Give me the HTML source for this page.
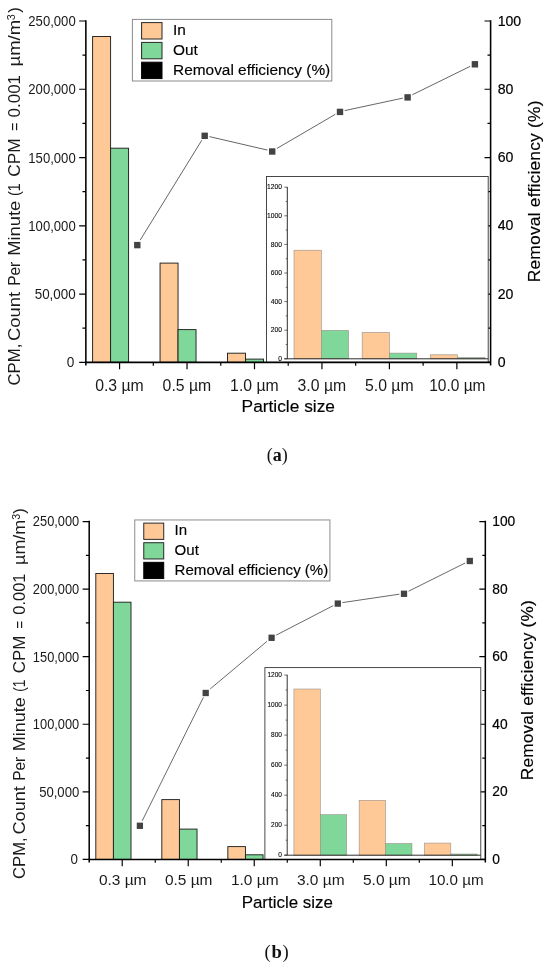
<!DOCTYPE html>
<html lang="en">
<head>
<meta charset="utf-8">
<title>Particle size removal efficiency</title>
<style>
html,body{margin:0;padding:0;background:#fff;}
body{width:550px;height:968px;overflow:hidden;}
svg{display:block;font-family:"Liberation Sans",sans-serif;}
</style>
</head>
<body>
<svg width="550" height="968" viewBox="0 0 550 968">
<rect width="550" height="968" fill="#fff"/>
<g transform="translate(0 0)">
<rect x="92.6" y="36.5" width="17.99" height="325.85" fill="#FEC997" stroke="#202020" stroke-width="0.95"/>
<rect x="110.58" y="148.2" width="17.99" height="214.15" fill="#7FD799" stroke="#202020" stroke-width="0.95"/>
<rect x="160.05" y="263.1" width="17.99" height="99.25" fill="#FEC997" stroke="#202020" stroke-width="0.95"/>
<rect x="178.04" y="329.6" width="17.99" height="32.75" fill="#7FD799" stroke="#202020" stroke-width="0.95"/>
<rect x="227.51" y="353.2" width="17.99" height="9.15" fill="#FEC997" stroke="#202020" stroke-width="0.95"/>
<rect x="245.5" y="359.1" width="17.99" height="3.25" fill="#7FD799" stroke="#202020" stroke-width="0.95"/>
<polyline points="137.3,244.8 204.7,135.5 272.2,151.2 340,111.6 407.6,97.1 474.9,64" fill="none" stroke="#666" stroke-width="1"/>
<rect x="132.6" y="240.1" width="9.4" height="9.4" fill="#fff"/>
<rect x="200" y="130.8" width="9.4" height="9.4" fill="#fff"/>
<rect x="267.5" y="146.5" width="9.4" height="9.4" fill="#fff"/>
<rect x="335.3" y="106.9" width="9.4" height="9.4" fill="#fff"/>
<rect x="402.9" y="92.4" width="9.4" height="9.4" fill="#fff"/>
<rect x="470.2" y="59.3" width="9.4" height="9.4" fill="#fff"/>
<rect x="134.1" y="241.9" width="6.4" height="6.4" fill="#434343"/>
<rect x="201.5" y="132.6" width="6.4" height="6.4" fill="#434343"/>
<rect x="269" y="148.3" width="6.4" height="6.4" fill="#434343"/>
<rect x="336.8" y="108.7" width="6.4" height="6.4" fill="#434343"/>
<rect x="404.4" y="94.2" width="6.4" height="6.4" fill="#434343"/>
<rect x="471.7" y="61.1" width="6.4" height="6.4" fill="#434343"/>
<path d="M484.5 21H490.6 M487.5 55.14H490.6 M484.5 89.27H490.6 M487.5 123.41H490.6 M484.5 157.54H490.6 M487.5 191.68H490.6 M484.5 225.81H490.6 M487.5 259.95H490.6 M484.5 294.08H490.6 M487.5 328.22H490.6 M484.5 362.35H490.6" stroke="#000" stroke-width="1.2" fill="none"/>
<rect x="266.5" y="176.5" width="221.7" height="185.85" fill="#fff" stroke="#333" stroke-width="0.9"/>
<rect x="294" y="250.2" width="27.3" height="108.6" fill="#FEC997" stroke="#9a8f86" stroke-width="0.6"/>
<rect x="321.3" y="330.4" width="27.3" height="28.4" fill="#7FD799" stroke="#9a8f86" stroke-width="0.6"/>
<rect x="362.15" y="332.4" width="27.3" height="26.4" fill="#FEC997" stroke="#9a8f86" stroke-width="0.6"/>
<rect x="389.45" y="353.1" width="27.3" height="5.7" fill="#7FD799" stroke="#9a8f86" stroke-width="0.6"/>
<rect x="430.3" y="354.8" width="27.3" height="4" fill="#FEC997" stroke="#9a8f86" stroke-width="0.6"/>
<rect x="457.6" y="357.6" width="27.3" height="1.2" fill="#7FD799" stroke="#9a8f86" stroke-width="0.6"/>
<path d="M287.3 186.9V358.8 M284.3 358.8H488.2" stroke="#222" stroke-width="0.95" fill="none"/>
<path d="M284.3 187.2H287.3 M285.7 201.5H287.3 M284.3 215.8H287.3 M285.7 230.1H287.3 M284.3 244.4H287.3 M285.7 258.7H287.3 M284.3 273H287.3 M285.7 287.3H287.3 M284.3 301.6H287.3 M285.7 315.9H287.3 M284.3 330.2H287.3 M285.7 344.5H287.3 M284.3 358.8H287.3" stroke="#333" stroke-width="0.7" fill="none"/>
<text x="282" y="189.4" font-size="6.7" text-anchor="end" fill="#000" stroke="#000" stroke-width="0.1">1200</text>
<text x="282" y="218" font-size="6.7" text-anchor="end" fill="#000" stroke="#000" stroke-width="0.1">1000</text>
<text x="282" y="246.6" font-size="6.7" text-anchor="end" fill="#000" stroke="#000" stroke-width="0.1">800</text>
<text x="282" y="275.2" font-size="6.7" text-anchor="end" fill="#000" stroke="#000" stroke-width="0.1">600</text>
<text x="282" y="303.8" font-size="6.7" text-anchor="end" fill="#000" stroke="#000" stroke-width="0.1">400</text>
<text x="282" y="332.4" font-size="6.7" text-anchor="end" fill="#000" stroke="#000" stroke-width="0.1">200</text>
<text x="282" y="361" font-size="6.7" text-anchor="end" fill="#000" stroke="#000" stroke-width="0.1">0</text>
<path d="M85.85 20.3V365.55 M490.6 20.3V365.55 M85.05 362.35H491.4" stroke="#000" stroke-width="1.55" fill="none"/>
<path d="M79.15 21H85.85 M82.45 55.14H85.85 M79.15 89.27H85.85 M82.45 123.41H85.85 M79.15 157.54H85.85 M82.45 191.68H85.85 M79.15 225.81H85.85 M82.45 259.95H85.85 M79.15 294.08H85.85 M82.45 328.22H85.85 M79.15 362.35H85.85 M119.58 362.35V369.15 M153.31 362.35V365.65 M187.04 362.35V369.15 M220.77 362.35V365.65 M254.5 362.35V369.15 M288.22 362.35V365.65 M321.95 362.35V369.15 M355.68 362.35V365.65 M389.41 362.35V369.15 M423.14 362.35V365.65 M456.87 362.35V369.15" stroke="#000" stroke-width="1.2" fill="none"/>
<text x="75.7" y="26" font-size="14" text-anchor="end" textLength="47.4" lengthAdjust="spacingAndGlyphs" fill="#1a1a1a">250,000</text>
<text x="75.7" y="94.27" font-size="14" text-anchor="end" textLength="47.4" lengthAdjust="spacingAndGlyphs" fill="#1a1a1a">200,000</text>
<text x="75.7" y="162.54" font-size="14" text-anchor="end" textLength="47.4" lengthAdjust="spacingAndGlyphs" fill="#1a1a1a">150,000</text>
<text x="75.7" y="230.81" font-size="14" text-anchor="end" textLength="47.4" lengthAdjust="spacingAndGlyphs" fill="#1a1a1a">100,000</text>
<text x="75.7" y="299.08" font-size="14" text-anchor="end" textLength="41" lengthAdjust="spacingAndGlyphs" fill="#1a1a1a">50,000</text>
<text x="74.4" y="367.35" font-size="14" text-anchor="end" textLength="7.6" lengthAdjust="spacingAndGlyphs" fill="#1a1a1a">0</text>
<text x="497.7" y="25.6" font-size="14.1" fill="#000" stroke="#000" stroke-width="0.2">100</text>
<text x="497.7" y="93.87" font-size="14.1" fill="#000" stroke="#000" stroke-width="0.2">80</text>
<text x="497.7" y="162.14" font-size="14.1" fill="#000" stroke="#000" stroke-width="0.2">60</text>
<text x="497.7" y="230.41" font-size="14.1" fill="#000" stroke="#000" stroke-width="0.2">40</text>
<text x="497.7" y="298.68" font-size="14.1" fill="#000" stroke="#000" stroke-width="0.2">20</text>
<text x="497.7" y="366.95" font-size="14.1" fill="#000" stroke="#000" stroke-width="0.2">0</text>
<text x="119.48" y="391.1" font-size="15.6" text-anchor="middle" textLength="48.6" lengthAdjust="spacingAndGlyphs" fill="#1a1a1a">0.3 µm</text>
<text x="186.94" y="391.1" font-size="15.6" text-anchor="middle" textLength="48.6" lengthAdjust="spacingAndGlyphs" fill="#1a1a1a">0.5 µm</text>
<text x="254.4" y="391.1" font-size="15.6" text-anchor="middle" textLength="48.6" lengthAdjust="spacingAndGlyphs" fill="#1a1a1a">1.0 µm</text>
<text x="321.85" y="391.1" font-size="15.6" text-anchor="middle" textLength="48.6" lengthAdjust="spacingAndGlyphs" fill="#1a1a1a">3.0 µm</text>
<text x="389.31" y="391.1" font-size="15.6" text-anchor="middle" textLength="48.6" lengthAdjust="spacingAndGlyphs" fill="#1a1a1a">5.0 µm</text>
<text x="457.37" y="391.1" font-size="15.6" text-anchor="middle" textLength="56.4" lengthAdjust="spacingAndGlyphs" fill="#1a1a1a">10.0 µm</text>
<text x="288.3" y="411.6" font-size="17.33" text-anchor="middle" fill="#000" stroke="#000" stroke-width="0.15">Particle size</text>
<text transform="translate(539.6 191.4) rotate(-90)" font-size="17.4" text-anchor="middle" textLength="181.8" lengthAdjust="spacing" fill="#000" stroke="#000" stroke-width="0.15">Removal efficiency (%)</text>
<text transform="translate(19.9 385.5) rotate(-90)" font-size="16.4" textLength="41.8" lengthAdjust="spacingAndGlyphs" fill="#1a1a1a">CPM,</text>
<text transform="translate(19.9 341.1) rotate(-90)" font-size="16.4" textLength="49.3" lengthAdjust="spacingAndGlyphs" fill="#1a1a1a">Count</text>
<text transform="translate(19.9 285.8) rotate(-90)" font-size="16.4" textLength="24" lengthAdjust="spacingAndGlyphs" fill="#1a1a1a">Per</text>
<text transform="translate(19.9 255.8) rotate(-90)" font-size="16.4" textLength="55" lengthAdjust="spacingAndGlyphs" fill="#1a1a1a">Minute</text>
<text transform="translate(19.9 195.9) rotate(-90)" font-size="16.4" textLength="12.6" lengthAdjust="spacingAndGlyphs" fill="#1a1a1a">(1</text>
<text transform="translate(19.9 176.8) rotate(-90)" font-size="16.4" textLength="38.4" lengthAdjust="spacingAndGlyphs" fill="#1a1a1a">CPM</text>
<text transform="translate(19.9 130.9) rotate(-90)" font-size="16.4" textLength="8.6" lengthAdjust="spacingAndGlyphs" fill="#1a1a1a">=</text>
<text transform="translate(19.9 117.4) rotate(-90)" font-size="16.4" textLength="42.4" lengthAdjust="spacingAndGlyphs" fill="#1a1a1a">0.001</text>
<text transform="translate(19.9 66.5) rotate(-90)" font-size="16.4" textLength="46.7" lengthAdjust="spacingAndGlyphs" fill="#1a1a1a">µm/m</text>
<text transform="translate(15 20.2) rotate(-90)" font-size="10.8" fill="#1a1a1a">3</text>
<text transform="translate(19.9 12.7) rotate(-90)" font-size="16.4" fill="#1a1a1a">)</text>
<rect x="132.4" y="19.4" width="199.4" height="61.6" fill="#fff" stroke="#8a8a8a" stroke-width="1"/>
<rect x="141.6" y="22.6" width="20.4" height="16.4" fill="#FEC997" stroke="#262626" stroke-width="1"/>
<text x="173.1" y="35" font-size="15.4" fill="#000" stroke="#000" stroke-width="0.15">In</text>
<rect x="141.6" y="42.4" width="20.4" height="16.4" fill="#7FD799" stroke="#262626" stroke-width="1"/>
<text x="173.1" y="55" font-size="15.4" fill="#000" stroke="#000" stroke-width="0.15">Out</text>
<rect x="141.6" y="62.2" width="20.4" height="16.4" fill="#000" stroke="#000" stroke-width="1"/>
<text x="173.1" y="75" font-size="15.4" fill="#000" stroke="#000" stroke-width="0.15">Removal efficiency (%)</text>
</g>
<g transform="matrix(0.9787 0 0 0.9898 5.18 500.76)">
<rect x="92.6" y="73.49" width="17.99" height="288.86" fill="#FEC997" stroke="#202020" stroke-width="0.95"/>
<rect x="110.58" y="102.48" width="17.99" height="259.87" fill="#7FD799" stroke="#202020" stroke-width="0.95"/>
<rect x="160.05" y="301.92" width="17.99" height="60.43" fill="#FEC997" stroke="#202020" stroke-width="0.95"/>
<rect x="178.04" y="331.72" width="17.99" height="30.63" fill="#7FD799" stroke="#202020" stroke-width="0.95"/>
<rect x="227.51" y="349.4" width="17.99" height="12.95" fill="#FEC997" stroke="#202020" stroke-width="0.95"/>
<rect x="245.5" y="357.68" width="17.99" height="4.67" fill="#7FD799" stroke="#202020" stroke-width="0.95"/>
<polyline points="137.65,328.08 204.89,193.91 272.22,138.14 339.86,103.59 407.5,93.69 474.73,60.55" fill="none" stroke="#666" stroke-width="1"/>
<rect x="132.95" y="323.38" width="9.4" height="9.4" fill="#fff"/>
<rect x="200.19" y="189.21" width="9.4" height="9.4" fill="#fff"/>
<rect x="267.52" y="133.44" width="9.4" height="9.4" fill="#fff"/>
<rect x="335.16" y="98.89" width="9.4" height="9.4" fill="#fff"/>
<rect x="402.8" y="88.99" width="9.4" height="9.4" fill="#fff"/>
<rect x="470.03" y="55.85" width="9.4" height="9.4" fill="#fff"/>
<rect x="134.45" y="325.18" width="6.4" height="6.4" fill="#434343"/>
<rect x="201.69" y="191.01" width="6.4" height="6.4" fill="#434343"/>
<rect x="269.02" y="135.24" width="6.4" height="6.4" fill="#434343"/>
<rect x="336.66" y="100.69" width="6.4" height="6.4" fill="#434343"/>
<rect x="404.3" y="90.79" width="6.4" height="6.4" fill="#434343"/>
<rect x="471.53" y="57.65" width="6.4" height="6.4" fill="#434343"/>
<path d="M484.5 21H490.6 M487.5 55.14H490.6 M484.5 89.27H490.6 M487.5 123.41H490.6 M484.5 157.54H490.6 M487.5 191.68H490.6 M484.5 225.81H490.6 M487.5 259.95H490.6 M484.5 294.08H490.6 M487.5 328.22H490.6 M484.5 362.35H490.6" stroke="#000" stroke-width="1.2" fill="none"/>
<rect x="265.37" y="168.56" width="220.6" height="193.79" fill="#fff" stroke="#333" stroke-width="0.9"/>
<rect x="295.01" y="190.18" width="26.97" height="167.91" fill="#FEC997" stroke="#9a8f86" stroke-width="0.6"/>
<rect x="321.98" y="317.17" width="26.97" height="40.92" fill="#7FD799" stroke="#9a8f86" stroke-width="0.6"/>
<rect x="361.68" y="302.62" width="26.97" height="55.47" fill="#FEC997" stroke="#9a8f86" stroke-width="0.6"/>
<rect x="388.65" y="346.27" width="26.97" height="11.82" fill="#7FD799" stroke="#9a8f86" stroke-width="0.6"/>
<rect x="428.35" y="345.86" width="26.97" height="12.22" fill="#FEC997" stroke="#9a8f86" stroke-width="0.6"/>
<rect x="455.32" y="356.88" width="26.97" height="1.21" fill="#7FD799" stroke="#9a8f86" stroke-width="0.6"/>
<path d="M288.16 175.83V358.09 M285.16 358.09H485.97" stroke="#222" stroke-width="0.95" fill="none"/>
<path d="M285.16 176.13H288.16 M286.56 191.3H288.16 M285.16 206.46H288.16 M286.56 221.62H288.16 M285.16 236.78H288.16 M286.56 251.95H288.16 M285.16 267.11H288.16 M286.56 282.27H288.16 M285.16 297.44H288.16 M286.56 312.6H288.16 M285.16 327.76H288.16 M286.56 342.93H288.16 M285.16 358.09H288.16" stroke="#333" stroke-width="0.7" fill="none"/>
<text x="282.86" y="178.33" font-size="6.7" text-anchor="end" fill="#000" stroke="#000" stroke-width="0.1">1200</text>
<text x="282.86" y="208.66" font-size="6.7" text-anchor="end" fill="#000" stroke="#000" stroke-width="0.1">1000</text>
<text x="282.86" y="238.98" font-size="6.7" text-anchor="end" fill="#000" stroke="#000" stroke-width="0.1">800</text>
<text x="282.86" y="269.31" font-size="6.7" text-anchor="end" fill="#000" stroke="#000" stroke-width="0.1">600</text>
<text x="282.86" y="299.64" font-size="6.7" text-anchor="end" fill="#000" stroke="#000" stroke-width="0.1">400</text>
<text x="282.86" y="329.96" font-size="6.7" text-anchor="end" fill="#000" stroke="#000" stroke-width="0.1">200</text>
<text x="282.86" y="360.29" font-size="6.7" text-anchor="end" fill="#000" stroke="#000" stroke-width="0.1">0</text>
<path d="M85.85 20.3V365.55 M490.6 20.3V365.55 M85.05 362.35H491.4" stroke="#000" stroke-width="1.55" fill="none"/>
<path d="M79.15 21H85.85 M82.45 55.14H85.85 M79.15 89.27H85.85 M82.45 123.41H85.85 M79.15 157.54H85.85 M82.45 191.68H85.85 M79.15 225.81H85.85 M82.45 259.95H85.85 M79.15 294.08H85.85 M82.45 328.22H85.85 M79.15 362.35H85.85 M119.58 362.35V369.15 M153.31 362.35V365.65 M187.04 362.35V369.15 M220.77 362.35V365.65 M254.5 362.35V369.15 M288.22 362.35V365.65 M321.95 362.35V369.15 M355.68 362.35V365.65 M389.41 362.35V369.15 M423.14 362.35V365.65 M456.87 362.35V369.15" stroke="#000" stroke-width="1.2" fill="none"/>
<text x="75.7" y="26" font-size="14" text-anchor="end" textLength="47.4" lengthAdjust="spacingAndGlyphs" fill="#1a1a1a">250,000</text>
<text x="75.7" y="94.27" font-size="14" text-anchor="end" textLength="47.4" lengthAdjust="spacingAndGlyphs" fill="#1a1a1a">200,000</text>
<text x="75.7" y="162.54" font-size="14" text-anchor="end" textLength="47.4" lengthAdjust="spacingAndGlyphs" fill="#1a1a1a">150,000</text>
<text x="75.7" y="230.81" font-size="14" text-anchor="end" textLength="47.4" lengthAdjust="spacingAndGlyphs" fill="#1a1a1a">100,000</text>
<text x="75.7" y="299.08" font-size="14" text-anchor="end" textLength="41" lengthAdjust="spacingAndGlyphs" fill="#1a1a1a">50,000</text>
<text x="74.4" y="367.35" font-size="14" text-anchor="end" textLength="7.6" lengthAdjust="spacingAndGlyphs" fill="#1a1a1a">0</text>
<text x="497.7" y="25.6" font-size="14.1" fill="#000" stroke="#000" stroke-width="0.2">100</text>
<text x="497.7" y="93.87" font-size="14.1" fill="#000" stroke="#000" stroke-width="0.2">80</text>
<text x="497.7" y="162.14" font-size="14.1" fill="#000" stroke="#000" stroke-width="0.2">60</text>
<text x="497.7" y="230.41" font-size="14.1" fill="#000" stroke="#000" stroke-width="0.2">40</text>
<text x="497.7" y="298.68" font-size="14.1" fill="#000" stroke="#000" stroke-width="0.2">20</text>
<text x="497.7" y="366.95" font-size="14.1" fill="#000" stroke="#000" stroke-width="0.2">0</text>
<text x="120.08" y="387.79" font-size="15.6" text-anchor="middle" textLength="48.6" lengthAdjust="spacingAndGlyphs" fill="#1a1a1a">0.3 µm</text>
<text x="187.54" y="387.79" font-size="15.6" text-anchor="middle" textLength="48.6" lengthAdjust="spacingAndGlyphs" fill="#1a1a1a">0.5 µm</text>
<text x="255" y="387.79" font-size="15.6" text-anchor="middle" textLength="48.6" lengthAdjust="spacingAndGlyphs" fill="#1a1a1a">1.0 µm</text>
<text x="322.45" y="387.79" font-size="15.6" text-anchor="middle" textLength="48.6" lengthAdjust="spacingAndGlyphs" fill="#1a1a1a">3.0 µm</text>
<text x="389.91" y="387.79" font-size="15.6" text-anchor="middle" textLength="48.6" lengthAdjust="spacingAndGlyphs" fill="#1a1a1a">5.0 µm</text>
<text x="460.67" y="387.79" font-size="15.6" text-anchor="middle" textLength="56.4" lengthAdjust="spacingAndGlyphs" fill="#1a1a1a">10.0 µm</text>
<text x="288.3" y="411.6" font-size="17.33" text-anchor="middle" fill="#000" stroke="#000" stroke-width="0.15">Particle size</text>
<text transform="translate(539.6 191.4) rotate(-90)" font-size="17.4" text-anchor="middle" textLength="181.8" lengthAdjust="spacing" fill="#000" stroke="#000" stroke-width="0.15">Removal efficiency (%)</text>
<text transform="translate(19.9 382.02) rotate(-90)" font-size="16.4" textLength="41.91" lengthAdjust="spacingAndGlyphs" fill="#1a1a1a">CPM,</text>
<text transform="translate(19.9 337.17) rotate(-90)" font-size="16.4" textLength="48.88" lengthAdjust="spacingAndGlyphs" fill="#1a1a1a">Count</text>
<text transform="translate(19.9 282.91) rotate(-90)" font-size="16.4" textLength="24.23" lengthAdjust="spacingAndGlyphs" fill="#1a1a1a">Per</text>
<text transform="translate(19.9 253.11) rotate(-90)" font-size="16.4" textLength="54.54" lengthAdjust="spacingAndGlyphs" fill="#1a1a1a">Minute</text>
<text transform="translate(19.9 193) rotate(-90)" font-size="16.4" textLength="12.21" lengthAdjust="spacingAndGlyphs" fill="#1a1a1a">(1</text>
<text transform="translate(19.9 174.2) rotate(-90)" font-size="16.4" textLength="37.77" lengthAdjust="spacingAndGlyphs" fill="#1a1a1a">CPM</text>
<text transform="translate(19.9 129.35) rotate(-90)" font-size="16.4" textLength="8.06" lengthAdjust="spacingAndGlyphs" fill="#1a1a1a">=</text>
<text transform="translate(19.9 115.2) rotate(-90)" font-size="16.4" textLength="41.71" lengthAdjust="spacingAndGlyphs" fill="#1a1a1a">0.001</text>
<text transform="translate(19.9 64.79) rotate(-90)" font-size="16.4" textLength="45.55" lengthAdjust="spacingAndGlyphs" fill="#1a1a1a">µm/m</text>
<text transform="translate(15 19.23) rotate(-90)" font-size="10.8" fill="#1a1a1a">3</text>
<text transform="translate(19.9 13.07) rotate(-90)" font-size="16.4" fill="#1a1a1a">)</text>
<rect x="132.4" y="19.4" width="199.4" height="61.6" fill="#fff" stroke="#8a8a8a" stroke-width="1"/>
<rect x="141.6" y="22.6" width="20.4" height="16.4" fill="#FEC997" stroke="#262626" stroke-width="1"/>
<text x="173.1" y="35" font-size="15.4" fill="#000" stroke="#000" stroke-width="0.15">In</text>
<rect x="141.6" y="42.4" width="20.4" height="16.4" fill="#7FD799" stroke="#262626" stroke-width="1"/>
<text x="173.1" y="55" font-size="15.4" fill="#000" stroke="#000" stroke-width="0.15">Out</text>
<rect x="141.6" y="62.2" width="20.4" height="16.4" fill="#000" stroke="#000" stroke-width="1"/>
<text x="173.1" y="75" font-size="15.4" fill="#000" stroke="#000" stroke-width="0.15">Removal efficiency (%)</text>
</g>
<text x="277.2" y="461.4" font-family="'Liberation Serif', serif" font-size="18" text-anchor="middle" fill="#111">(<tspan font-weight="bold">a</tspan>)</text>
<text x="276.7" y="957.6" font-family="'Liberation Serif', serif" font-size="18.6" text-anchor="middle" textLength="24.2" lengthAdjust="spacing" fill="#111">(<tspan font-weight="bold">b</tspan>)</text>
</svg>
</body>
</html>
